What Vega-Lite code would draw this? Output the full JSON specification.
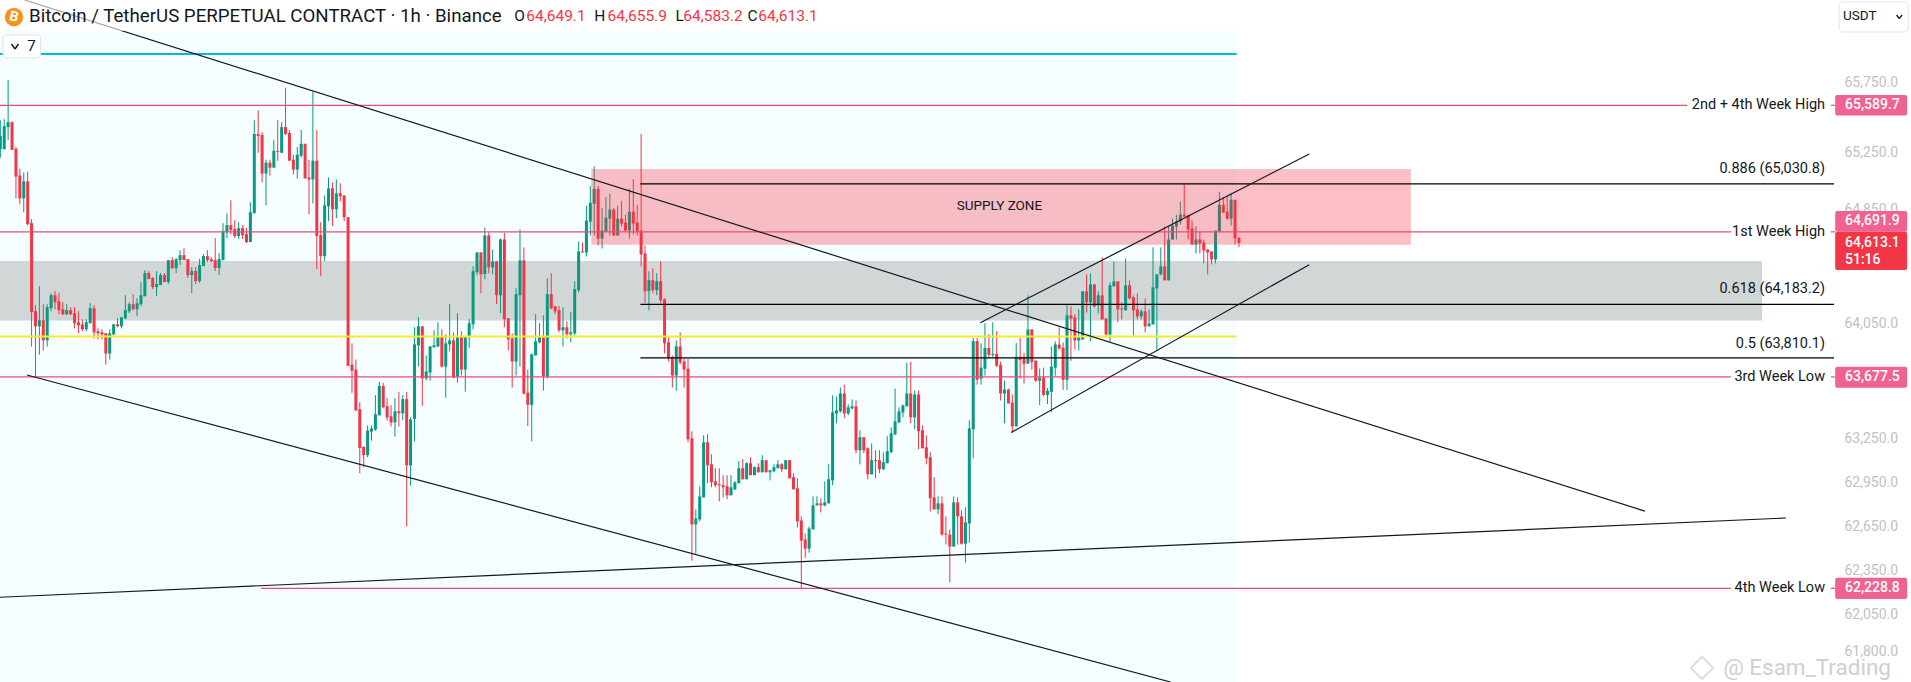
{"$schema":"https://vega.github.io/schema/vega-lite/v6.json","width":1911,"height":682,"autosize":"none","padding":0,"background":"#ffffff","view":{"stroke":null},
"datasets":{"candles":[
{"i":0,"o":65279,"h":65483,"l":65216,"c":65373},{"i":1,"o":65279,"h":65490,"l":65272,"c":65441},{"i":2,"o":65434,"h":65771,"l":65343,"c":65469},{"i":3,"o":65469,"h":65476,"l":65272,"c":65272},{"i":4,"o":65279,"h":65293,"l":64928,"c":65083},{"i":5,"o":65090,"h":65139,"l":64886,"c":64928},{"i":6,"o":64928,"h":65111,"l":64830,"c":65048},{"i":7,"o":65048,"h":65118,"l":64739,"c":64746},{"i":8,"o":64753,"h":64781,"l":63889,"c":64128},{"i":9,"o":64135,"h":64177,"l":63674,"c":64030},
{"i":10,"o":64030,"h":64311,"l":63833,"c":64072},{"i":11,"o":64072,"h":64184,"l":63861,"c":63932},{"i":12,"o":63932,"h":64184,"l":63889,"c":64163},{"i":13,"o":64156,"h":64262,"l":64135,"c":64247},{"i":14,"o":64247,"h":64276,"l":64149,"c":64198},{"i":15,"o":64205,"h":64262,"l":64114,"c":64142},{"i":16,"o":64149,"h":64198,"l":64107,"c":64114},{"i":17,"o":64114,"h":64184,"l":64107,"c":64142},{"i":18,"o":64142,"h":64163,"l":64107,"c":64114},{"i":19,"o":64121,"h":64163,"l":64016,"c":64051},
{"i":20,"o":64058,"h":64135,"l":63981,"c":64037},{"i":21,"o":64044,"h":64079,"l":63995,"c":64009},{"i":22,"o":64009,"h":64079,"l":63995,"c":64058},{"i":23,"o":64051,"h":64191,"l":64051,"c":64156},{"i":24,"o":64156,"h":64177,"l":63946,"c":63988},{"i":25,"o":63995,"h":64016,"l":63939,"c":63981},{"i":26,"o":63988,"h":64009,"l":63939,"c":63974},{"i":27,"o":63981,"h":63981,"l":63763,"c":63840},{"i":28,"o":63840,"h":64009,"l":63798,"c":63981},{"i":29,"o":63974,"h":64044,"l":63967,"c":64044},
{"i":30,"o":64044,"h":64086,"l":64023,"c":64030},{"i":31,"o":64030,"h":64093,"l":64016,"c":64093},{"i":32,"o":64086,"h":64247,"l":64079,"c":64142},{"i":33,"o":64135,"h":64198,"l":64121,"c":64184},{"i":34,"o":64184,"h":64254,"l":64142,"c":64149},{"i":35,"o":64149,"h":64226,"l":64100,"c":64191},{"i":36,"o":64184,"h":64339,"l":64170,"c":64247},{"i":37,"o":64240,"h":64423,"l":64240,"c":64402},{"i":38,"o":64402,"h":64416,"l":64360,"c":64360},{"i":39,"o":64367,"h":64374,"l":64290,"c":64304},
{"i":40,"o":64304,"h":64416,"l":64240,"c":64325},{"i":41,"o":64318,"h":64402,"l":64318,"c":64388},{"i":42,"o":64388,"h":64402,"l":64339,"c":64339},{"i":43,"o":64339,"h":64493,"l":64325,"c":64493},{"i":44,"o":64493,"h":64514,"l":64430,"c":64437},{"i":45,"o":64437,"h":64507,"l":64402,"c":64500},{"i":46,"o":64493,"h":64563,"l":64458,"c":64528},{"i":47,"o":64528,"h":64577,"l":64493,"c":64493},{"i":48,"o":64500,"h":64500,"l":64367,"c":64388},{"i":49,"o":64388,"h":64444,"l":64262,"c":64416},
{"i":50,"o":64416,"h":64444,"l":64325,"c":64346},{"i":51,"o":64346,"h":64500,"l":64332,"c":64458},{"i":52,"o":64451,"h":64535,"l":64451,"c":64521},{"i":53,"o":64521,"h":64563,"l":64479,"c":64493},{"i":54,"o":64500,"h":64514,"l":64479,"c":64486},{"i":55,"o":64493,"h":64648,"l":64416,"c":64437},{"i":56,"o":64437,"h":64542,"l":64388,"c":64500},{"i":57,"o":64493,"h":64753,"l":64493,"c":64697},{"i":58,"o":64690,"h":64823,"l":64648,"c":64739},{"i":59,"o":64739,"h":64914,"l":64676,"c":64704},
{"i":60,"o":64711,"h":64774,"l":64648,"c":64662},{"i":61,"o":64662,"h":64760,"l":64641,"c":64718},{"i":62,"o":64718,"h":64739,"l":64641,"c":64669},{"i":63,"o":64676,"h":64718,"l":64613,"c":64620},{"i":64,"o":64620,"h":64900,"l":64620,"c":64830},{"i":65,"o":64823,"h":65483,"l":64823,"c":65385},{"i":66,"o":65385,"h":65553,"l":65251,"c":65371},{"i":67,"o":65378,"h":65399,"l":65041,"c":65104},{"i":68,"o":65104,"h":65202,"l":64879,"c":65181},{"i":69,"o":65181,"h":65202,"l":65090,"c":65146},
{"i":70,"o":65146,"h":65343,"l":65146,"c":65265},{"i":71,"o":65265,"h":65483,"l":65195,"c":65258},{"i":72,"o":65251,"h":65469,"l":65251,"c":65434},{"i":73,"o":65434,"h":65715,"l":65378,"c":65385},{"i":74,"o":65392,"h":65413,"l":65195,"c":65195},{"i":75,"o":65202,"h":65237,"l":65097,"c":65132},{"i":76,"o":65132,"h":65293,"l":65069,"c":65237},{"i":77,"o":65230,"h":65413,"l":65216,"c":65315},{"i":78,"o":65315,"h":65315,"l":65069,"c":65069},{"i":79,"o":65076,"h":65202,"l":64816,"c":65062},
{"i":80,"o":65062,"h":65687,"l":64893,"c":65195},{"i":81,"o":65195,"h":65413,"l":64430,"c":64662},{"i":82,"o":64669,"h":64760,"l":64381,"c":64521},{"i":83,"o":64521,"h":64949,"l":64486,"c":64879},{"i":84,"o":64872,"h":65076,"l":64767,"c":64999},{"i":85,"o":64999,"h":65041,"l":64732,"c":64851},{"i":86,"o":64851,"h":65062,"l":64788,"c":64964},{"i":87,"o":64964,"h":65034,"l":64907,"c":64942},{"i":88,"o":64949,"h":64949,"l":64767,"c":64795},{"i":89,"o":64795,"h":64795,"l":63756,"c":63756},
{"i":90,"o":63763,"h":63911,"l":63567,"c":63721},{"i":91,"o":63728,"h":63798,"l":63440,"c":63447},{"i":92,"o":63454,"h":63503,"l":63014,"c":63187},{"i":93,"o":63194,"h":63200,"l":63054,"c":63138},{"i":94,"o":63138,"h":63342,"l":63124,"c":63307},{"i":95,"o":63300,"h":63342,"l":63237,"c":63321},{"i":96,"o":63314,"h":63552,"l":63305,"c":63419},{"i":97,"o":63412,"h":63644,"l":63412,"c":63616},{"i":98,"o":63616,"h":63637,"l":63461,"c":63468},{"i":99,"o":63475,"h":63531,"l":63377,"c":63398},
{"i":100,"o":63405,"h":63482,"l":63335,"c":63363},{"i":101,"o":63363,"h":63531,"l":63265,"c":63440},{"i":102,"o":63440,"h":63574,"l":63335,"c":63426},{"i":103,"o":63426,"h":63552,"l":63377,"c":63524},{"i":104,"o":63524,"h":63574,"l":62649,"c":63068},{"i":105,"o":63068,"h":63400,"l":62928,"c":63384},{"i":106,"o":63387,"h":64023,"l":63233,"c":63904},{"i":107,"o":63897,"h":64093,"l":63750,"c":64030},{"i":108,"o":64030,"h":64030,"l":63478,"c":63667},{"i":109,"o":63667,"h":63827,"l":63653,"c":63716},
{"i":110,"o":63709,"h":63890,"l":63653,"c":63890},{"i":111,"o":63883,"h":64002,"l":63883,"c":63897},{"i":112,"o":63890,"h":64058,"l":63883,"c":63953},{"i":113,"o":63953,"h":64009,"l":63743,"c":63750},{"i":114,"o":63750,"h":63974,"l":63534,"c":63911},{"i":115,"o":63904,"h":64184,"l":63855,"c":63932},{"i":116,"o":63932,"h":63988,"l":63667,"c":63674},{"i":117,"o":63681,"h":64121,"l":63639,"c":63953},{"i":118,"o":63953,"h":63995,"l":63688,"c":63729},{"i":119,"o":63729,"h":63953,"l":63576,"c":63953},
{"i":120,"o":63953,"h":64079,"l":63876,"c":64051},{"i":121,"o":64044,"h":64449,"l":64009,"c":64415},{"i":122,"o":64408,"h":64547,"l":64387,"c":64547},{"i":123,"o":64547,"h":64547,"l":64261,"c":64394},{"i":124,"o":64394,"h":64722,"l":64359,"c":64666},{"i":125,"o":64666,"h":64687,"l":64401,"c":64442},{"i":126,"o":64442,"h":64568,"l":64394,"c":64484},{"i":127,"o":64484,"h":64484,"l":64184,"c":64247},{"i":128,"o":64247,"h":64645,"l":64121,"c":64638},{"i":129,"o":64638,"h":64687,"l":64023,"c":64079},
{"i":130,"o":64086,"h":64086,"l":63862,"c":63939},{"i":131,"o":63946,"h":63981,"l":63604,"c":63785},{"i":132,"o":63785,"h":64296,"l":63688,"c":64254},{"i":133,"o":64247,"h":64708,"l":63750,"c":64491},{"i":134,"o":64491,"h":64582,"l":63555,"c":63562},{"i":135,"o":63569,"h":63729,"l":63338,"c":63485},{"i":136,"o":63485,"h":63841,"l":63233,"c":63834},{"i":137,"o":63827,"h":64114,"l":63827,"c":63925},{"i":138,"o":63918,"h":64051,"l":63911,"c":63953},{"i":139,"o":63953,"h":64107,"l":63583,"c":63681},
{"i":140,"o":63681,"h":64366,"l":63667,"c":64254},{"i":141,"o":64254,"h":64401,"l":64149,"c":64156},{"i":142,"o":64170,"h":64170,"l":64114,"c":64135},{"i":143,"o":64142,"h":64170,"l":63988,"c":64002},{"i":144,"o":64002,"h":64163,"l":63890,"c":64023},{"i":145,"o":64023,"h":64065,"l":63946,"c":63974},{"i":146,"o":63974,"h":64128,"l":63918,"c":63988},{"i":147,"o":63981,"h":64345,"l":63967,"c":64289},{"i":148,"o":64282,"h":64624,"l":64268,"c":64554},{"i":149,"o":64554,"h":64617,"l":64547,"c":64547},
{"i":150,"o":64547,"h":64876,"l":64519,"c":64771},{"i":151,"o":64764,"h":65016,"l":64666,"c":64897},{"i":152,"o":64890,"h":65155,"l":64666,"c":64995},{"i":153,"o":64995,"h":65016,"l":64596,"c":64645},{"i":154,"o":64645,"h":64862,"l":64575,"c":64701},{"i":155,"o":64694,"h":64939,"l":64694,"c":64792},{"i":156,"o":64785,"h":64960,"l":64666,"c":64848},{"i":157,"o":64848,"h":64862,"l":64666,"c":64666},{"i":158,"o":64666,"h":64876,"l":64666,"c":64785},{"i":159,"o":64785,"h":64911,"l":64729,"c":64750},
{"i":160,"o":64757,"h":64813,"l":64694,"c":64701},{"i":161,"o":64701,"h":64995,"l":64645,"c":64834},{"i":162,"o":64834,"h":65065,"l":64673,"c":64750},{"i":163,"o":64757,"h":64883,"l":64666,"c":64694},{"i":164,"o":64701,"h":65386,"l":64449,"c":64533},{"i":165,"o":64540,"h":64596,"l":64191,"c":64275},{"i":166,"o":64275,"h":64415,"l":64142,"c":64352},{"i":167,"o":64352,"h":64435,"l":64261,"c":64282},{"i":168,"o":64282,"h":64401,"l":64247,"c":64345},{"i":169,"o":64345,"h":64484,"l":64191,"c":64212},
{"i":170,"o":64219,"h":64226,"l":63841,"c":63911},{"i":171,"o":63918,"h":63953,"l":63785,"c":63806},{"i":172,"o":63813,"h":63827,"l":63604,"c":63688},{"i":173,"o":63688,"h":63932,"l":63583,"c":63890},{"i":174,"o":63890,"h":63988,"l":63764,"c":63778},{"i":175,"o":63785,"h":63806,"l":63604,"c":63729},{"i":176,"o":63735,"h":63803,"l":63226,"c":63247},{"i":177,"o":63254,"h":63302,"l":62416,"c":62663},{"i":178,"o":62663,"h":62766,"l":62464,"c":62704},{"i":179,"o":62697,"h":62924,"l":62684,"c":62855},
{"i":180,"o":62848,"h":63274,"l":62848,"c":63226},{"i":181,"o":63226,"h":63281,"l":62945,"c":63068},{"i":182,"o":63075,"h":63144,"l":62917,"c":62951},{"i":183,"o":62958,"h":63048,"l":62917,"c":62931},{"i":184,"o":62938,"h":63048,"l":62821,"c":62931},{"i":185,"o":62931,"h":63000,"l":62848,"c":62917},{"i":186,"o":62924,"h":63000,"l":62835,"c":62862},{"i":187,"o":62862,"h":63000,"l":62862,"c":62917},{"i":188,"o":62903,"h":62958,"l":62897,"c":62951},{"i":189,"o":62945,"h":63096,"l":62945,"c":63048},
{"i":190,"o":63048,"h":63109,"l":62972,"c":62972},{"i":191,"o":62972,"h":63089,"l":62972,"c":63082},{"i":192,"o":63082,"h":63123,"l":63000,"c":63000},{"i":193,"o":63000,"h":63061,"l":63000,"c":63055},{"i":194,"o":63055,"h":63082,"l":63018,"c":63020},{"i":195,"o":63020,"h":63137,"l":63020,"c":63103},{"i":196,"o":63103,"h":63103,"l":63020,"c":63020},{"i":197,"o":63020,"h":63034,"l":62965,"c":63034},{"i":198,"o":63027,"h":63075,"l":63020,"c":63055},{"i":199,"o":63048,"h":63103,"l":63048,"c":63075},
{"i":200,"o":63075,"h":63082,"l":63020,"c":63041},{"i":201,"o":63041,"h":63103,"l":63041,"c":63103},{"i":202,"o":63103,"h":63103,"l":62979,"c":62979},{"i":203,"o":62986,"h":63013,"l":62903,"c":62903},{"i":204,"o":62910,"h":62979,"l":62642,"c":62684},{"i":205,"o":62690,"h":62718,"l":62228,"c":62553},{"i":206,"o":62560,"h":62601,"l":62436,"c":62498},{"i":207,"o":62498,"h":62649,"l":62471,"c":62635},{"i":208,"o":62629,"h":62855,"l":62629,"c":62793},{"i":209,"o":62793,"h":62855,"l":62793,"c":62807},
{"i":210,"o":62807,"h":62842,"l":62745,"c":62793},{"i":211,"o":62793,"h":62958,"l":62787,"c":62814},{"i":212,"o":62807,"h":63075,"l":62807,"c":62972},{"i":213,"o":62965,"h":63549,"l":62931,"c":63432},{"i":214,"o":63425,"h":63542,"l":63357,"c":63446},{"i":215,"o":63439,"h":63604,"l":63432,"c":63563},{"i":216,"o":63563,"h":63625,"l":63391,"c":63425},{"i":217,"o":63425,"h":63487,"l":63412,"c":63467},{"i":218,"o":63460,"h":63522,"l":63453,"c":63474},{"i":219,"o":63474,"h":63515,"l":63151,"c":63171},
{"i":220,"o":63171,"h":63309,"l":63075,"c":63261},{"i":221,"o":63261,"h":63261,"l":63151,"c":63171},{"i":222,"o":63185,"h":63192,"l":62972,"c":63006},{"i":223,"o":63006,"h":63219,"l":63006,"c":63103},{"i":224,"o":63103,"h":63171,"l":62979,"c":63096},{"i":225,"o":63103,"h":63171,"l":63013,"c":63041},{"i":226,"o":63041,"h":63158,"l":63034,"c":63089},{"i":227,"o":63082,"h":63268,"l":63082,"c":63164},{"i":228,"o":63158,"h":63329,"l":63151,"c":63288},{"i":229,"o":63281,"h":63597,"l":63274,"c":63371},
{"i":230,"o":63364,"h":63467,"l":63357,"c":63439},{"i":231,"o":63432,"h":63487,"l":63398,"c":63480},{"i":232,"o":63474,"h":63776,"l":63474,"c":63563},{"i":233,"o":63563,"h":63783,"l":63357,"c":63398},{"i":234,"o":63398,"h":63584,"l":63316,"c":63556},{"i":235,"o":63556,"h":63584,"l":63178,"c":63302},{"i":236,"o":63309,"h":63343,"l":63185,"c":63185},{"i":237,"o":63192,"h":63274,"l":63075,"c":63116},{"i":238,"o":63123,"h":63158,"l":62752,"c":62842},{"i":239,"o":62848,"h":62986,"l":62766,"c":62766},
{"i":240,"o":62766,"h":62855,"l":62732,"c":62807},{"i":241,"o":62807,"h":62855,"l":62587,"c":62594},{"i":242,"o":62601,"h":62718,"l":62526,"c":62594},{"i":243,"o":62594,"h":62629,"l":62271,"c":62512},{"i":244,"o":62512,"h":62855,"l":62512,"c":62814},{"i":245,"o":62814,"h":62848,"l":62526,"c":62718},{"i":246,"o":62718,"h":62759,"l":62526,"c":62532},{"i":247,"o":62532,"h":62780,"l":62402,"c":62677},{"i":248,"o":62670,"h":63377,"l":62539,"c":63322},{"i":249,"o":63316,"h":63948,"l":63116,"c":63927},
{"i":250,"o":63927,"h":63948,"l":63625,"c":63659},{"i":251,"o":63666,"h":63911,"l":63625,"c":63742},{"i":252,"o":63735,"h":64051,"l":63687,"c":63879},{"i":253,"o":63879,"h":63975,"l":63810,"c":63831},{"i":254,"o":63831,"h":64058,"l":63817,"c":63838},{"i":255,"o":63838,"h":63996,"l":63748,"c":63755},{"i":256,"o":63762,"h":63783,"l":63515,"c":63563},{"i":257,"o":63563,"h":63652,"l":63357,"c":63590},{"i":258,"o":63590,"h":63597,"l":63494,"c":63494},{"i":259,"o":63501,"h":63556,"l":63295,"c":63336},
{"i":260,"o":63336,"h":63913,"l":63336,"c":63817},{"i":261,"o":63817,"h":63948,"l":63666,"c":63796},{"i":262,"o":63817,"h":63845,"l":63632,"c":63769},{"i":263,"o":63770,"h":64246,"l":63770,"c":64008},{"i":264,"o":64008,"h":64008,"l":63728,"c":63782},{"i":265,"o":63791,"h":63791,"l":63644,"c":63651},{"i":266,"o":63651,"h":63735,"l":63483,"c":63672},{"i":267,"o":63672,"h":63742,"l":63546,"c":63553},{"i":268,"o":63553,"h":63602,"l":63490,"c":63581},{"i":269,"o":63574,"h":63889,"l":63434,"c":63749},
{"i":270,"o":63742,"h":63924,"l":63686,"c":63903},{"i":271,"o":63903,"h":64022,"l":63868,"c":63875},{"i":272,"o":63882,"h":63917,"l":63588,"c":63658},{"i":273,"o":63658,"h":64183,"l":63588,"c":64106},{"i":274,"o":64106,"h":64169,"l":63789,"c":64085},{"i":275,"o":64092,"h":64113,"l":63868,"c":63931},{"i":276,"o":63931,"h":64148,"l":63861,"c":63952},{"i":277,"o":63938,"h":64274,"l":63938,"c":64274},{"i":278,"o":64274,"h":64393,"l":64125,"c":64197},{"i":279,"o":64197,"h":64400,"l":63927,"c":64323},
{"i":280,"o":64323,"h":64323,"l":64160,"c":64169},{"i":281,"o":64176,"h":64274,"l":64120,"c":64246},{"i":282,"o":64246,"h":64512,"l":64078,"c":64078},{"i":283,"o":64085,"h":64085,"l":63966,"c":63973},{"i":284,"o":63973,"h":64337,"l":63924,"c":64316},{"i":285,"o":64309,"h":64484,"l":64309,"c":64344},{"i":286,"o":64344,"h":64344,"l":64057,"c":64148},{"i":287,"o":64155,"h":64197,"l":64078,"c":64148},{"i":288,"o":64141,"h":64505,"l":64141,"c":64316},{"i":289,"o":64316,"h":64351,"l":64218,"c":64225},
{"i":290,"o":64232,"h":64246,"l":63966,"c":64141},{"i":291,"o":64148,"h":64260,"l":64078,"c":64099},{"i":292,"o":64099,"h":64148,"l":64078,"c":64134},{"i":293,"o":64134,"h":64225,"l":63987,"c":64029},{"i":294,"o":64029,"h":64148,"l":64029,"c":64050},{"i":295,"o":64043,"h":64582,"l":64043,"c":64302},{"i":296,"o":64295,"h":64393,"l":63868,"c":64393},{"i":297,"o":64393,"h":64582,"l":64386,"c":64449},{"i":298,"o":64449,"h":64731,"l":64351,"c":64351},{"i":299,"o":64351,"h":64736,"l":64351,"c":64638},
{"i":300,"o":64638,"h":64785,"l":64638,"c":64736},{"i":301,"o":64729,"h":64813,"l":64638,"c":64764},{"i":302,"o":64764,"h":64904,"l":64743,"c":64813},{"i":303,"o":64813,"h":65025,"l":64799,"c":64799},{"i":304,"o":64806,"h":64813,"l":64638,"c":64708},{"i":305,"o":64715,"h":64771,"l":64603,"c":64603},{"i":306,"o":64603,"h":64729,"l":64540,"c":64638},{"i":307,"o":64638,"h":64694,"l":64540,"c":64610},{"i":308,"o":64617,"h":64638,"l":64470,"c":64561},{"i":309,"o":64568,"h":64568,"l":64393,"c":64547},
{"i":310,"o":64554,"h":64554,"l":64463,"c":64498},{"i":311,"o":64498,"h":64701,"l":64470,"c":64701},{"i":312,"o":64694,"h":64974,"l":64694,"c":64883},{"i":313,"o":64883,"h":64939,"l":64827,"c":64827},{"i":314,"o":64834,"h":64946,"l":64778,"c":64785},{"i":315,"o":64785,"h":64967,"l":64736,"c":64918},{"i":316,"o":64918,"h":64918,"l":64603,"c":64645},{"i":317,"o":64649.1,"h":64655.9,"l":64583.2,"c":64613.1}],
"pinkLevels":[{"a":-0.08,"b":431.7,"p":65589.7},{"a":468.5,"b":469.6,"p":65589.7},{"a":-0.08,"b":442.9,"p":64691.9},{"a":468.5,"b":469.6,"p":64691.9},{"a":-0.08,"b":442.9,"p":63677.5},{"a":468.5,"b":469.6,"p":63677.5},{"a":66.75,"b":442.9,"p":62228.8},{"a":468.5,"b":469.6,"p":62228.8}],
"fib":[{"a":163.8,"b":469.3,"p":65030.8},{"a":163.8,"b":469.3,"p":64183.2},{"a":163.8,"b":469.3,"p":63810.1}],
"trends":[{"a":6.19,"b":420.9,"p":66346,"q":62754},{"a":6.83,"b":299.5,"p":63691,"q":61597},{"a":-0.08,"b":457,"p":62168,"q":62707},{"a":250.8,"b":335,"p":64055,"q":65243},{"a":258.7,"b":335,"p":63293,"q":64461}],
"labels":[{"t":"2nd + 4th Week High","i":467,"p":65589.7},{"t":"0.886 (65,030.8)","i":467,"p":65138},{"t":"1st Week High","i":467,"p":64691.9},{"t":"0.618 (64,183.2)","i":467,"p":64288},{"t":"0.5 (63,810.1)","i":467,"p":63910},{"t":"3rd Week Low","i":467,"p":63677.5},{"t":"4th Week Low","i":467,"p":62228.8}],
"tags":[{"p1":65516,"p2":65664},{"p1":64692,"p2":64838},{"p1":63603,"p2":63749},{"p1":62157,"p2":62300}],
"tagText":[{"t":"65,589.7","p":65589.7},{"t":"64,691.9","p":64765},{"t":"64,613.1","p":64613.1},{"t":"51:16","p":64495},{"t":"63,677.5","p":63677.5},{"t":"62,228.8","p":62228.8}],
"ohlcDark":[{"t":"O","i":131.5},{"t":"H","i":152},{"t":"L","i":172.8},{"t":"C","i":191.2}],
"ohlcRed":[{"t":"64,649.1","i":134.6},{"t":"64,655.9","i":155.4},{"t":"64,583.2","i":174.8},{"t":"64,613.1","i":194}],
"boxes":[{"a":0.68,"b":10.3,"p1":65928,"p2":66094},{"a":470.6,"b":488.3,"p1":66115,"p2":66332}],
"chevrons":[{"a":2.86,"b":3.76,"p":66029,"q":65993},{"a":3.76,"b":4.65,"p":65993,"q":66029},{"a":485.3,"b":486,"p":66238,"q":66212},{"a":486,"b":486.7,"p":66212,"q":66238}]},
"layer":[
{"data":{"values":[{"a":-0.08,"b":316.4,"p1":61597,"p2":66122}]},"mark":{"type":"rect","color":"#f5fdff"},"encoding":{"x":{"field":"a","type":"quantitative","scale":{"domain":[-0.08,489],"nice":false,"zero":false},"axis":null},"x2":{"field":"b"},"y":{"field":"p1","type":"quantitative","scale":{"type":"log","domain":[61597,66346],"nice":false,"zero":false},"axis":{"orient":"right","offset":-67,"title":null,"domain":false,"ticks":false,"grid":false,"labelPadding":0,"labelAlign":"left","values":[65750,65250,64850,64050,63250,62950,62650,62350,62050,61800],"format":",.1f","labelFont":"Roboto","labelFontSize":14,"labelColor":"#bfc1c3"}},"y2":{"field":"p2"}}},
{"data":{"values":[{"a":-0.08,"b":450.9,"p1":64071,"p2":64486}]},"mark":{"type":"rect","color":"#d1d6d7"},"encoding":{"x":{"field":"a","type":"quantitative"},"x2":{"field":"b"},"y":{"field":"p1","type":"quantitative"},"y2":{"field":"p2"}}},
{"data":{"name":"candles"},"mark":{"type":"rule","strokeWidth":1},"encoding":{"x":{"field":"i","type":"quantitative"},"y":{"field":"l","type":"quantitative"},"y2":{"field":"h"},"color":{"condition":{"test":"datum.c>=datum.o","value":"#089981"},"value":"#f23645"}}},
{"data":{"name":"candles"},"mark":{"type":"rule","strokeWidth":3},"encoding":{"x":{"field":"i","type":"quantitative"},"y":{"field":"o","type":"quantitative"},"y2":{"field":"c"},"color":{"condition":{"test":"datum.c>=datum.o","value":"#089981"},"value":"#f23645"}}},
{"data":{"values":[{"a":151.26,"b":361,"p1":64601,"p2":65137}]},"mark":{"type":"rect","color":"#f92f42","opacity":0.31},"encoding":{"x":{"field":"a","type":"quantitative"},"x2":{"field":"b"},"y":{"field":"p1","type":"quantitative"},"y2":{"field":"p2"}}},
{"data":{"name":"pinkLevels"},"mark":{"type":"rule","color":"#e84a80","strokeWidth":1.2},"encoding":{"x":{"field":"a","type":"quantitative"},"x2":{"field":"b"},"y":{"field":"p","type":"quantitative"}}},
{"data":{"values":[{"a":-0.08,"b":316.4,"p":63959}]},"mark":{"type":"rule","color":"#f8e92f","strokeWidth":2},"encoding":{"x":{"field":"a","type":"quantitative"},"x2":{"field":"b"},"y":{"field":"p","type":"quantitative"}}},
{"data":{"values":[{"a":-0.08,"b":316.4,"p":65957}]},"mark":{"type":"rule","color":"#00bcd4","strokeWidth":2},"encoding":{"x":{"field":"a","type":"quantitative"},"x2":{"field":"b"},"y":{"field":"p","type":"quantitative"}}},
{"data":{"name":"fib"},"mark":{"type":"rule","color":"#000000","strokeWidth":1.3},"encoding":{"x":{"field":"a","type":"quantitative"},"x2":{"field":"b"},"y":{"field":"p","type":"quantitative"}}},
{"data":{"name":"trends"},"mark":{"type":"rule","color":"#131722","strokeWidth":1.2},"encoding":{"x":{"field":"a","type":"quantitative"},"x2":{"field":"b"},"y":{"field":"p","type":"quantitative"},"y2":{"field":"q"}}},
{"data":{"values":[{"a":-0.08,"b":316.4,"p1":66122,"p2":66346}]},"mark":{"type":"rect","color":"#ffffff","opacity":0.6},"encoding":{"x":{"field":"a","type":"quantitative"},"x2":{"field":"b"},"y":{"field":"p1","type":"quantitative"},"y2":{"field":"p2"}}},
{"data":{"name":"labels"},"mark":{"type":"text","align":"right","baseline":"middle","font":"Roboto","fontSize":14.5,"color":"#131722"},"encoding":{"x":{"field":"i","type":"quantitative"},"y":{"field":"p","type":"quantitative"},"text":{"field":"t"}}},
{"data":{"values":[{"t":"SUPPLY ZONE","i":255.7,"p":64876}]},"mark":{"type":"text","align":"center","baseline":"middle","font":"Roboto","fontSize":13.5,"color":"#131722"},"encoding":{"x":{"field":"i","type":"quantitative"},"y":{"field":"p","type":"quantitative"},"text":{"field":"t"}}},
{"data":{"name":"tags"},"mark":{"type":"rect","color":"#f06292","cornerRadius":2},"encoding":{"x":{"datum":469.6,"type":"quantitative"},"x2":{"datum":488},"y":{"field":"p1","type":"quantitative"},"y2":{"field":"p2"}}},
{"data":{"values":[{"p1":64423,"p2":64692}]},"mark":{"type":"rect","color":"#f23645","cornerRadius":2},"encoding":{"x":{"datum":469.6,"type":"quantitative"},"x2":{"datum":488},"y":{"field":"p1","type":"quantitative"},"y2":{"field":"p2"}}},
{"data":{"name":"tagText"},"mark":{"type":"text","align":"left","baseline":"middle","font":"Roboto","fontSize":14,"fontWeight":500,"color":"#ffffff"},"encoding":{"x":{"datum":472.1,"type":"quantitative"},"y":{"field":"p","type":"quantitative"},"text":{"field":"t"}}},
{"data":{"values":[{"t":"Bitcoin / TetherUS PERPETUAL CONTRACT · 1h · Binance","i":7.34,"p":66230}]},"mark":{"type":"text","align":"left","baseline":"middle","font":"Roboto","fontSize":18.7,"color":"#131722"},"encoding":{"x":{"field":"i","type":"quantitative"},"y":{"field":"p","type":"quantitative"},"text":{"field":"t"}}},
{"data":{"name":"ohlcDark"},"mark":{"type":"text","align":"left","baseline":"middle","font":"Roboto","fontSize":15.5,"color":"#131722"},"encoding":{"x":{"field":"i","type":"quantitative"},"y":{"datum":66230,"type":"quantitative"},"text":{"field":"t"}}},
{"data":{"name":"ohlcRed"},"mark":{"type":"text","align":"left","baseline":"middle","font":"Roboto","fontSize":15.5,"color":"#f23645"},"encoding":{"x":{"field":"i","type":"quantitative"},"y":{"datum":66230,"type":"quantitative"},"text":{"field":"t"}}},
{"data":{"values":[{"i":3.5,"p":66223}]},"mark":{"type":"point","shape":"circle","filled":true,"size":340,"color":"#f7931a","opacity":1},"encoding":{"x":{"field":"i","type":"quantitative"},"y":{"field":"p","type":"quantitative"}}},
{"data":{"values":[{"t":"B","i":3.5,"p":66223}]},"mark":{"type":"text","align":"center","baseline":"middle","font":"Roboto","fontSize":14,"fontWeight":"bold","angle":12,"color":"#ffffff"},"encoding":{"x":{"field":"i","type":"quantitative"},"y":{"field":"p","type":"quantitative"},"text":{"field":"t"}}},
{"data":{"name":"boxes"},"mark":{"type":"rect","fill":"#ffffff","stroke":"#e0e3eb","strokeWidth":1,"cornerRadius":4},"encoding":{"x":{"field":"a","type":"quantitative"},"x2":{"field":"b"},"y":{"field":"p1","type":"quantitative"},"y2":{"field":"p2"}}},
{"data":{"values":[{"t":"7","i":6.9,"p":66014}]},"mark":{"type":"text","align":"left","baseline":"middle","font":"Roboto","fontSize":15,"color":"#131722"},"encoding":{"x":{"field":"i","type":"quantitative"},"y":{"field":"p","type":"quantitative"},"text":{"field":"t"}}},
{"data":{"values":[{"t":"USDT","i":471.6,"p":66230}]},"mark":{"type":"text","align":"left","baseline":"middle","font":"Roboto","fontSize":13.5,"color":"#131722"},"encoding":{"x":{"field":"i","type":"quantitative"},"y":{"field":"p","type":"quantitative"},"text":{"field":"t"}}},
{"data":{"name":"chevrons"},"mark":{"type":"rule","color":"#131722","strokeWidth":1.4},"encoding":{"x":{"field":"a","type":"quantitative"},"x2":{"field":"b"},"y":{"field":"p","type":"quantitative"},"y2":{"field":"q"}}},
{"data":{"values":[{"i":435.5,"p":61692}]},"mark":{"type":"point","shape":"diamond","size":500,"filled":false,"color":"#cdd1d1","strokeWidth":2},"encoding":{"x":{"field":"i","type":"quantitative"},"y":{"field":"p","type":"quantitative"}}},
{"data":{"values":[{"t":"@ Esam_Trading","i":441,"p":61692}]},"mark":{"type":"text","align":"left","baseline":"middle","font":"Roboto","fontSize":22.5,"color":"#c8cccc","opacity":0.9},"encoding":{"x":{"field":"i","type":"quantitative"},"y":{"field":"p","type":"quantitative"},"text":{"field":"t"}}}
]}
